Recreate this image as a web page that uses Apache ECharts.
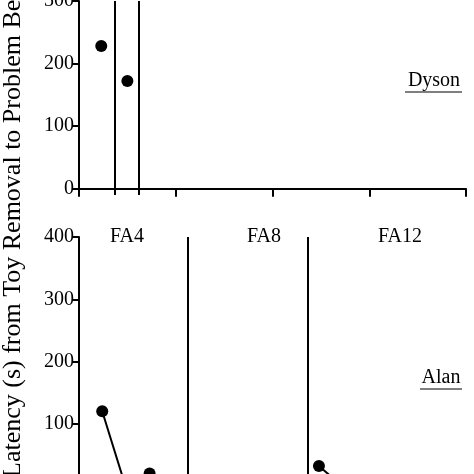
<!DOCTYPE html>
<html>
<head>
<meta charset="utf-8">
<script src="https://cdn.jsdelivr.net/npm/echarts@6/dist/echarts.min.js"></script>
<style>html,body{margin:0;padding:0;background:#fff}#chart{width:474px;height:474px}</style>
</head>
<body>
<div id="chart"></div>
<script>
// session position (x) and latency in seconds (y)
const dysonPoints = [[0.23, 228], [0.5, 172]];
const dysonPhaseLines = [0.37, 0.62];
const alanSegA = [[0.24, 120], [0.48, 0], [0.73, 20]];
const alanSegB = [[2.48, 32], [2.72, 0]];
const alanPhaseLines = [1.12, 2.36];
const phaseLabels = ['FA4', 'FA8', 'FA12'];
const phaseLabelX = [127, 264, 400];
const yTicks = [0, 100, 200, 300, 400];

const chart = echarts.init(document.getElementById('chart'));
const serif = 'Liberation Serif, Times New Roman, serif';
const black = '#000';

const dot = { symbol: 'circle', symbolSize: 12, itemStyle: { color: black, opacity: 1 }, lineStyle: { color: black, width: 2 } };
const phaseLine = (vals) => ({
  silent: true, symbol: 'none', label: { show: false },
  lineStyle: { color: black, width: 2, type: 'solid' },
  data: vals.map((v) => ({ xAxis: v })),
});

const yAxisBase = {
  type: 'value', interval: 100,
  axisLine: { show: true, lineStyle: { color: black, width: 2 } },
  axisTick: { show: true, length: 7, lineStyle: { color: black, width: 2 }, customValues: yTicks },
  axisLabel: { color: black, fontFamily: serif, fontSize: 20, margin: 5, customValues: yTicks },
  splitLine: { show: false },
};

chart.setOption({
  animation: false,
  grid: [
    { left: 79, width: 387, top: 1, height: 194, outerBoundsMode: 'none', containLabel: false },
    { left: 79, width: 387, top: 237, height: 249, outerBoundsMode: 'none', containLabel: false },
  ],
  xAxis: [
    { gridIndex: 0, type: 'value', min: 0, max: 4, interval: 1,
      axisLine: { lineStyle: { color: black, width: 2 } },
      axisTick: { length: 8, lineStyle: { color: black, width: 2 } },
      axisLabel: { show: false }, splitLine: { show: false } },
    { gridIndex: 1, type: 'value', min: 0, max: 4, show: false },
  ],
  yAxis: [
    { ...yAxisBase, gridIndex: 0, min: -10, max: 300 },
    { ...yAxisBase, gridIndex: 1, min: 0, max: 400 },
  ],
  series: [
    { type: 'scatter', xAxisIndex: 0, yAxisIndex: 0, data: dysonPoints, ...dot, markLine: phaseLine(dysonPhaseLines) },
    { type: 'line', xAxisIndex: 1, yAxisIndex: 1, data: alanSegA, ...dot, markLine: phaseLine(alanPhaseLines) },
    { type: 'line', xAxisIndex: 1, yAxisIndex: 1, data: alanSegB, ...dot },
  ],
  graphic: [
    ...phaseLabels.map((t, i) => ({
      type: 'text', x: phaseLabelX[i], y: 227,
      style: { text: t, font: '20px ' + serif, fill: black, textAlign: 'center' },
    })),
    { type: 'text', x: 434, y: 71, style: { text: 'Dyson', font: '20px ' + serif, fill: black, textAlign: 'center' } },
    { type: 'line', shape: { x1: 405, y1: 92, x2: 462, y2: 92 }, style: { stroke: black, lineWidth: 1.2 } },
    { type: 'text', x: 441, y: 368, style: { text: 'Alan', font: '20px ' + serif, fill: black, textAlign: 'center' } },
    { type: 'line', shape: { x1: 420, y1: 389, x2: 462, y2: 389 }, style: { stroke: black, lineWidth: 1.2 } },
    { type: 'text', x: 0, y: 478, rotation: Math.PI / 2,
      style: { text: 'Latency (s) from Toy Removal to Problem Behavior', font: '26px ' + serif, fill: black,
        textAlign: 'left', textVerticalAlign: 'top' } },
  ],
});
</script>
</body>
</html>
